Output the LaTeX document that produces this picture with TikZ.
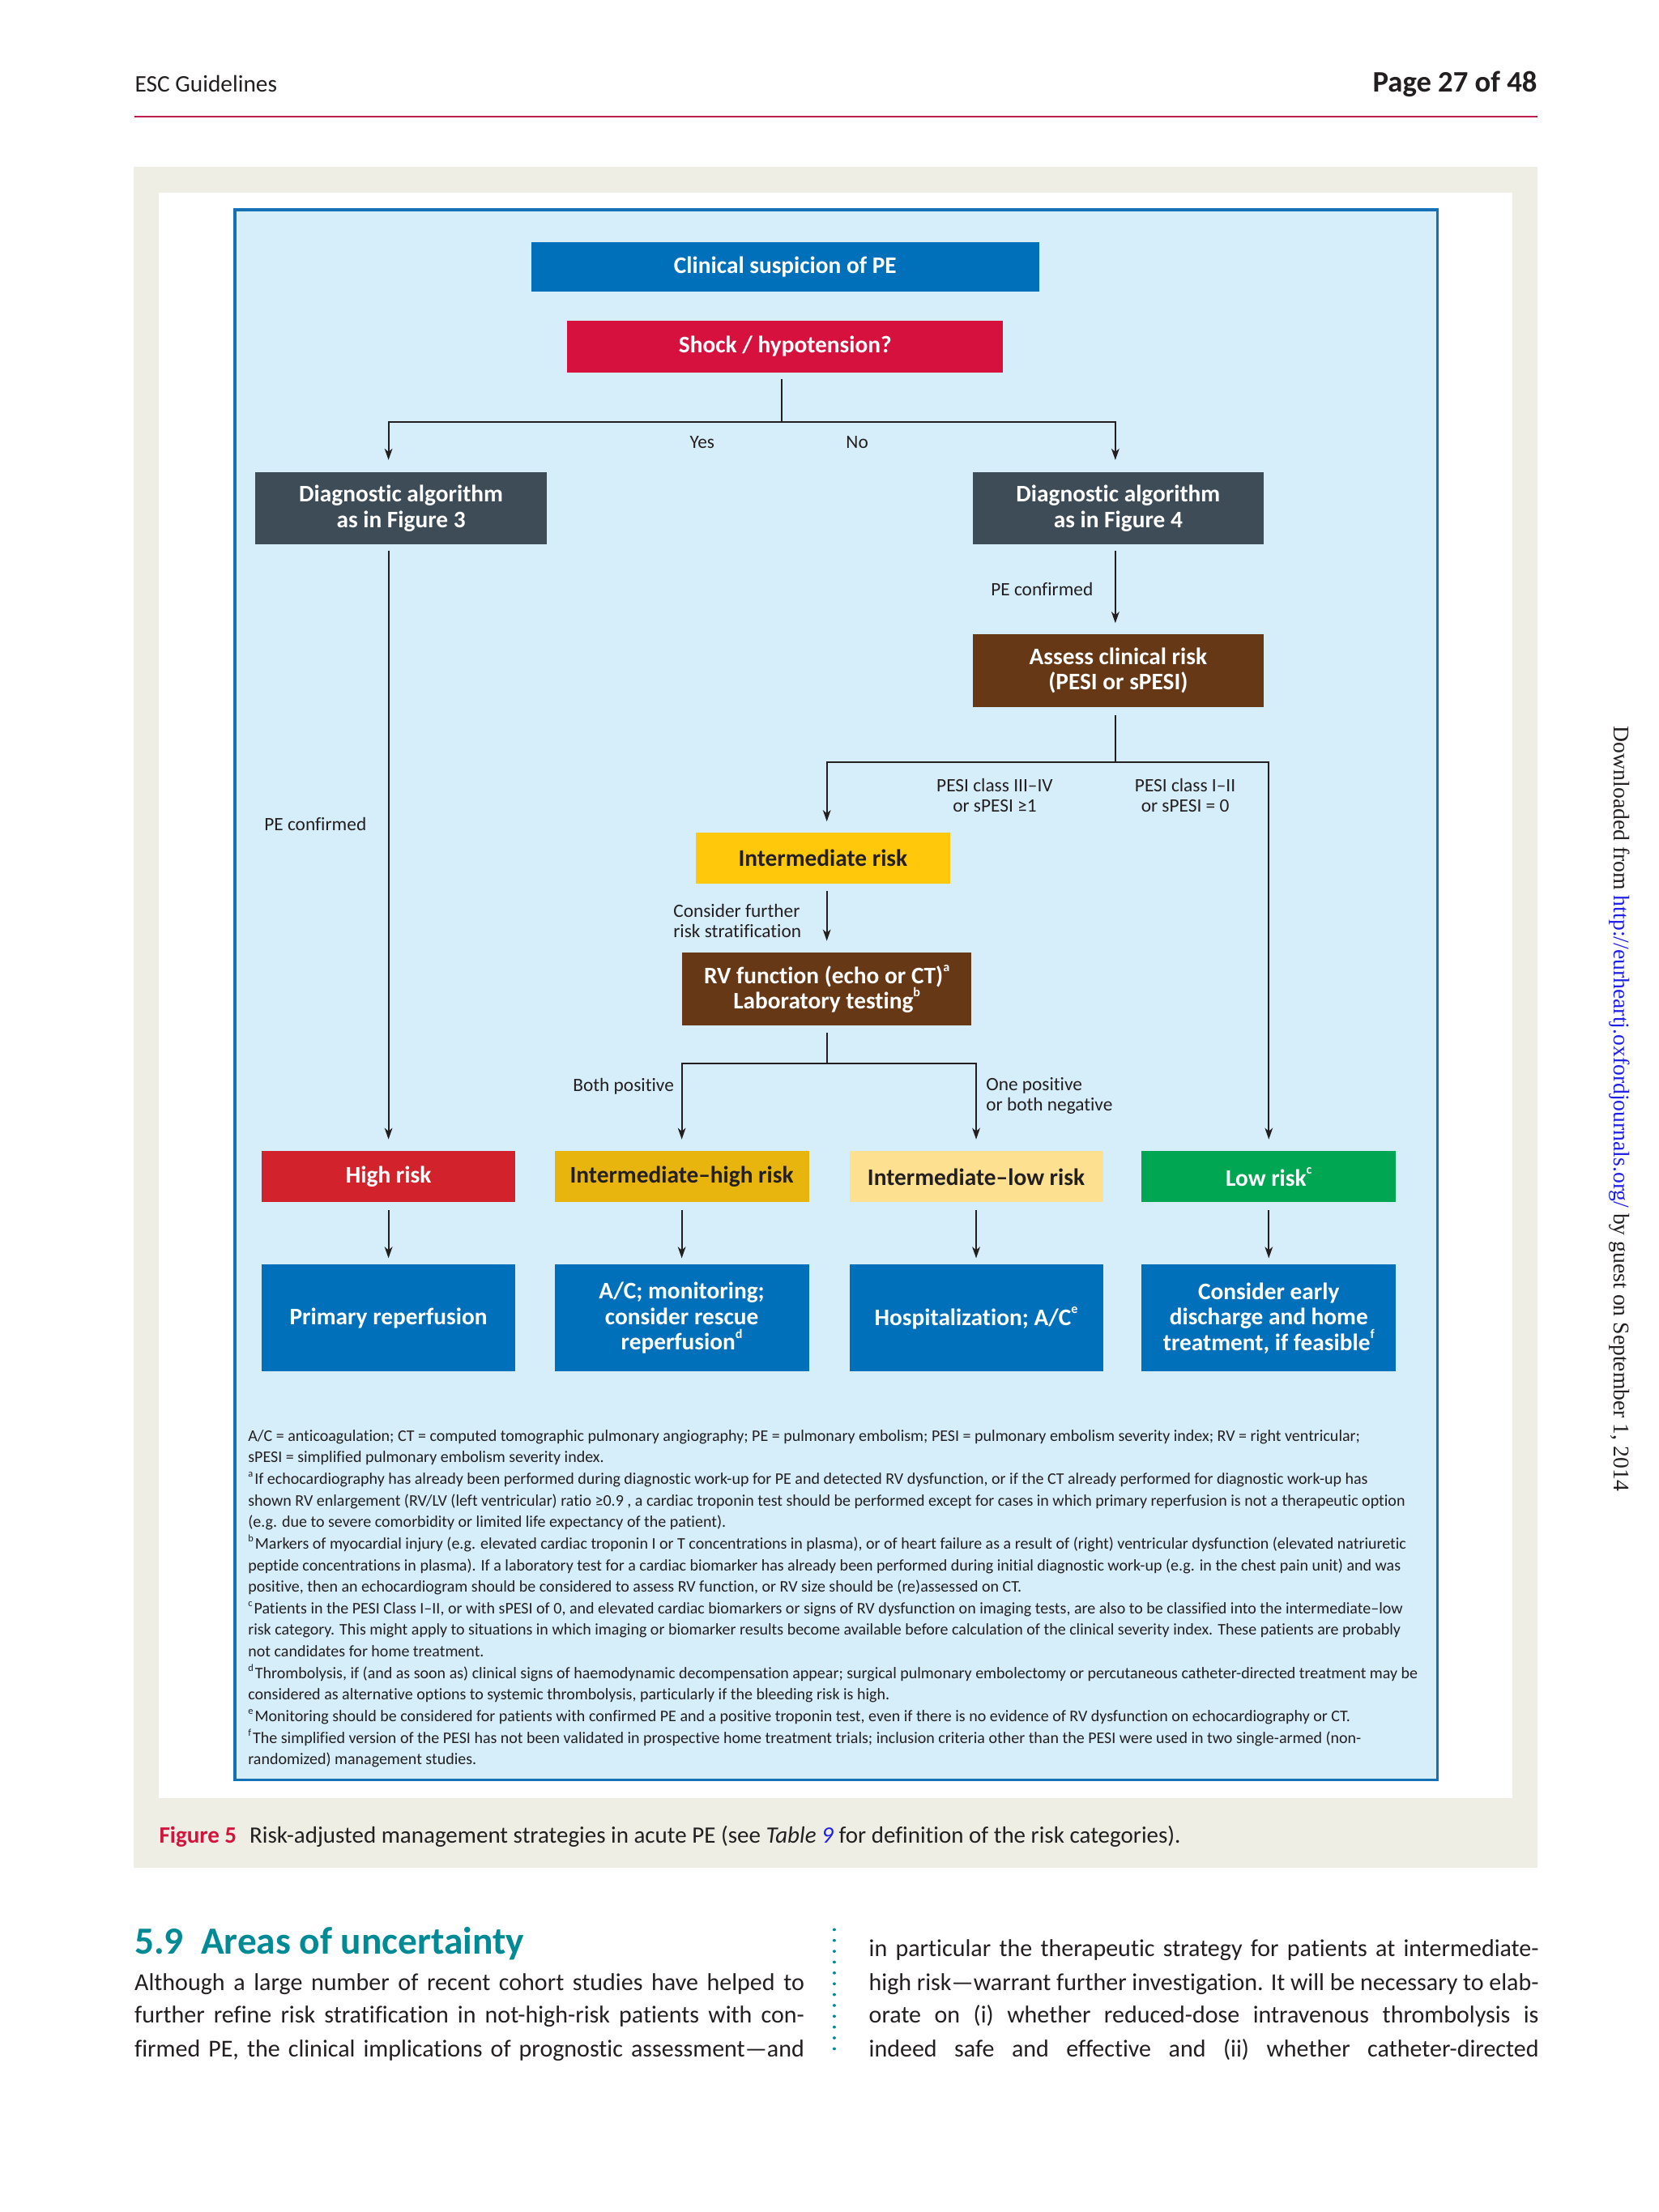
\documentclass[tikz,border=0pt]{standalone}
\usepackage{fontspec}
\usepackage{graphicx}
\setmainfont{Carlito}[Ligatures=NoCommon]
\newfontfamily\vserif{Liberation Serif}
\usetikzlibrary{arrows.meta}
\definecolor{escblue}{RGB}{0,112,186}
\definecolor{shockred}{RGB}{214,17,62}
\definecolor{slate}{RGB}{61,76,86}
\definecolor{brownbox}{RGB}{103,56,22}
\definecolor{interyel}{RGB}{255,200,10}
\definecolor{ihighcol}{RGB}{232,181,14}
\definecolor{ilowcol}{RGB}{254,224,145}
\definecolor{lowgreen}{RGB}{0,166,81}
\definecolor{highred}{RGB}{210,34,44}
\definecolor{panelblue}{RGB}{214,238,250}
\definecolor{borderblue}{RGB}{22,112,182}
\definecolor{panelgray}{RGB}{238,238,229}
\definecolor{ruleRed}{RGB}{190,28,76}
\definecolor{captred}{RGB}{210,20,60}
\definecolor{secteal}{RGB}{0,138,150}
\definecolor{inkdark}{RGB}{35,31,32}
\definecolor{linkblue}{RGB}{30,30,230}
\newcommand\bx[7]{%
  \node[#6, minimum width={(#4-#2)*0.5224pt}, minimum height={(#5-#3)*0.525pt}] (#1) at ({(#2+#4)/2},{(#3+#5)/2}) {#7};}
\newcommand\fnl[2]{%
  \node[fnote] (fn#1) at (175.5,{1016.5+15.21*(#1-1)}) {#2};}
\newcommand\bodyl[4]{%
  \node[bodytxt] (#1) at (#2,#3) {\makebox[248pt][s]{#4}};}
\newcommand\sups[1]{\raisebox{0.5em}{\scalebox{0.55}{#1}}}
\newcommand\fsup[1]{\raisebox{0.45em}{\scalebox{0.62}{#1}}\hspace{0.1em}}
\begin{document}
\begin{tikzpicture}[x=0.5224pt,y=-0.525pt,
  box/.style={inner sep=0pt, outer sep=0pt, align=center, text=white, font=\fontsize{8.8}{9.45}\selectfont\bfseries},
  darkbox/.style={box, text=inkdark},
  lbl/.style={inner sep=0pt, align=center, text=inkdark, font=\fontsize{7}{7.6}\selectfont},
  fnote/.style={inner sep=0pt, anchor=base west, text=inkdark, font=\fontsize{6}{7.9}\selectfont},
  bodytxt/.style={inner sep=0pt, anchor=base west, text=inkdark, font=\fontsize{9}{12}\selectfont},
  ln/.style={draw=inkdark, line width=0.6pt},
  arr/.style={ln, -{Stealth[length=4.2pt,width=2.9pt,inset=1.2pt]}},
]
\useasboundingbox (0,0) rectangle (1175.8,1560.2);
\fill[white] (0,0) rectangle (1175.8,1560.2);

% header
\node[inner sep=0pt, anchor=base west, text=inkdark, font=\fontsize{8.8}{10}\selectfont] (hdl) at (95.3,65) {ESC Guidelines};
\node[inner sep=0pt, anchor=base east, text=inkdark, font=\fontsize{11}{13}\selectfont\bfseries] (hdr) at (1089.8,65) {Page 27 of 48};
\draw[ruleRed, line width=0.6pt] (95.3,82.1) -- (1089.8,82.1);

% panels
\fill[panelgray] (94.5,117.8) rectangle (1089.5,1317.4);
\fill[white] (112.3,135.7) rectangle (1071.8,1268.3);
\filldraw[fill=panelblue, draw=borderblue, line width=1pt] (166.5,147.9) rectangle (1018.6,1255.5);

% boxes
\bx{clin}{376.5}{171}{736.5}{205.5}{box, fill=escblue}{Clinical suspicion of PE}
\bx{shock}{402}{226.5}{711}{262.5}{box, fill=shockred}{Shock / hypotension?}
\bx{diag3}{181}{333}{387.5}{384}{box, fill=slate}{Diagnostic algorithm\\as in Figure 3}
\bx{diag4}{689.5}{333}{895.5}{384}{box, fill=slate}{Diagnostic algorithm\\as in Figure 4}
\bx{assess}{689.5}{447.5}{895.5}{498.6}{box, fill=brownbox}{Assess clinical risk\\(PESI or sPESI)}
\bx{inter}{493}{587}{673.5}{623.5}{darkbox, fill=interyel}{Intermediate risk}
\bx{rv}{483.5}{672}{688.5}{723}{box, fill=brownbox}{RV function (echo or CT)\sups{a}\\Laboratory testing\sups{b}}
\bx{high}{185.7}{812}{365}{848}{box, fill=highred}{High risk}
\bx{ihigh}{393}{812}{573.4}{848}{darkbox, fill=ihighcol}{Intermediate–high risk}
\bx{ilow}{602}{812}{781.7}{848}{darkbox, fill=ilowcol}{Intermediate–low risk}
\bx{low}{809}{812}{989.5}{848}{box, fill=lowgreen}{Low risk\sups{c}}
\bx{t1}{185.7}{892}{365}{967.4}{box, fill=escblue}{Primary reperfusion}
\bx{t2}{393}{892}{573.4}{967.4}{box, fill=escblue}{A/C; monitoring;\\consider rescue\\reperfusion\sups{d}}
\bx{t3}{602}{892}{781.7}{967.4}{box, fill=escblue}{Hospitalization; A/C\sups{e}}
\bx{t4}{809}{892}{989.5}{967.4}{box, fill=escblue}{Consider early\\discharge and home\\treatment, if feasible\sups{f}}

% junctions
\coordinate (j1) at (554.3,297.6);
\coordinate (j2) at (790.5,537.7);
\coordinate (j3) at (586,750.1);

% connectors
\draw[ln, shorten <=2.5pt] (shock.south -| j1) -- (j1);
\draw[arr, shorten >=4.5pt] (j1) -| (diag3.north -| high.north);
\draw[arr, shorten >=4.5pt] (j1) -| (diag4.north -| j2);
\draw[arr, shorten <=2.2pt, shorten >=4.4pt] (diag3.south -| high.north) -- (high.north);
\draw[arr, shorten <=2.2pt, shorten >=4.2pt] (diag4.south -| j2) -- (assess.north -| j2);
\draw[ln, shorten <=3.1pt] (assess.south -| j2) -- (j2);
\draw[arr, shorten >=4pt] (j2) -| (inter.north -| j3);
\draw[arr, shorten >=4.4pt] (j2) -| (low.north);
\draw[arr, shorten <=2.7pt, shorten >=4.4pt] (inter.south -| j3) -- (rv.north -| j3);
\draw[ln, shorten <=2.8pt] (rv.south -| j3) -- (j3);
\draw[arr, shorten >=4.4pt] (j3) -| (ihigh.north);
\draw[arr, shorten >=4.4pt] (j3) -| (ilow.north);
\draw[arr, shorten <=3pt, shorten >=2.4pt] (high.south) -- (t1.north);
\draw[arr, shorten <=3pt, shorten >=2.4pt] (ihigh.south) -- (t2.north);
\draw[arr, shorten <=3pt, shorten >=2.4pt] (ilow.south) -- (t3.north);
\draw[arr, shorten <=3pt, shorten >=2.4pt] (low.south) -- (t4.north);

% labels
\node[lbl] (yes) at (497.7,311.7) {Yes};
\node[lbl] (no) at (607.5,311.7) {No};
\node[lbl] (pec1) at (223.5,581) {PE confirmed};
\node[lbl] (pec2) at (738.5,415.5) {PE confirmed};
\node[lbl] (pesi1) at (705,561) {PESI class III–IV\\or sPESI ≥1};
\node[lbl] (pesi2) at (840,561) {PESI class I–II\\or sPESI = 0};
\node[lbl, anchor=west, align=left] (cons) at (476.9,649.6) {Consider further\\risk stratification};
\node[lbl, anchor=east] (both) at (478,766) {Both positive};
\node[lbl, anchor=west, align=left] (one) at (698.5,773.1) {One positive\\or both negative};

% footnotes
\fnl{1}{A/C = anticoagulation; CT = computed tomographic pulmonary angiography; PE = pulmonary embolism; PESI = pulmonary embolism severity index; RV = right ventricular;}
\fnl{2}{sPESI = simplified pulmonary embolism severity index.}
\fnl{3}{\fsup{a}If echocardiography has already been performed during diagnostic work-up for PE and detected RV dysfunction, or if the CT already performed for diagnostic work-up has}
\fnl{4}{shown RV enlargement (RV/LV (left ventricular) ratio ≥0.9 , a cardiac troponin test should be performed except for cases in which primary reperfusion is not a therapeutic option}
\fnl{5}{(e.g. due to severe comorbidity or limited life expectancy of the patient).}
\fnl{6}{\fsup{b}Markers of myocardial injury (e.g. elevated cardiac troponin I or T concentrations in plasma), or of heart failure as a result of (right) ventricular dysfunction (elevated natriuretic}
\fnl{7}{peptide concentrations in plasma). If a laboratory test for a cardiac biomarker has already been performed during initial diagnostic work-up (e.g. in the chest pain unit) and was}
\fnl{8}{positive, then an echocardiogram should be considered to assess RV function, or RV size should be (re)assessed on CT.}
\fnl{9}{\fsup{c}Patients in the PESI Class I–II, or with sPESI of 0, and elevated cardiac biomarkers or signs of RV dysfunction on imaging tests, are also to be classified into the intermediate–low}
\fnl{10}{risk category. This might apply to situations in which imaging or biomarker results become available before calculation of the clinical severity index. These patients are probably}
\fnl{11}{not candidates for home treatment.}
\fnl{12}{\fsup{d}Thrombolysis, if (and as soon as) clinical signs of haemodynamic decompensation appear; surgical pulmonary embolectomy or percutaneous catheter-directed treatment may be}
\fnl{13}{considered as alternative options to systemic thrombolysis, particularly if the bleeding risk is high.}
\fnl{14}{\fsup{e}Monitoring should be considered for patients with confirmed PE and a positive troponin test, even if there is no evidence of RV dysfunction on echocardiography or CT.}
\fnl{15}{\fsup{f}The simplified version of the PESI has not been validated in prospective home treatment trials; inclusion criteria other than the PESI were used in two single-armed (non-}
\fnl{16}{randomized) management studies.}

% caption
\node[inner sep=0pt, anchor=base west, text=inkdark, font=\fontsize{8.7}{10}\selectfont] (cap) at (112.5,1300) {\textcolor{captred}{\bfseries Figure 5}\hspace{0.55em}Risk-adjusted management strategies in acute PE (see \textit{Table} \textcolor{linkblue}{\textit{9}} for definition of the risk categories).};

% section
\node[inner sep=0pt, anchor=base west, text=secteal, font=\fontsize{14.2}{16}\selectfont\bfseries] (sec) at (95,1378) {5.9\hspace{0.45em}Areas of uncertainty};
\bodyl{bl1}{95}{1403.8}{Although a large number of recent cohort studies have helped to}
\bodyl{bl2}{95}{1426.7}{further refine risk stratification in not-high-risk patients with con-}
\bodyl{bl3}{95}{1450.5}{firmed PE, the clinical implications of prognostic assessment—and}
\bodyl{br1}{615.5}{1380.1}{in particular the therapeutic strategy for patients at intermediate-}
\bodyl{br2}{615.5}{1403.8}{high risk—warrant further investigation. It will be necessary to elab-}
\bodyl{br3}{615.5}{1426.7}{orate on (i) whether reduced-dose intravenous thrombolysis is}
\bodyl{br4}{615.5}{1450.5}{indeed safe and effective and (ii) whether catheter-directed}
\draw[secteal, line width=1.1pt, dash pattern=on 0.01pt off 4pt, line cap=round] (591.2,1361) -- (591.2,1451);

% vertical download note
\node[inner sep=0pt, anchor=west, rotate=-90, text=inkdark, font=\vserif\fontsize{8.3}{10}\selectfont] (dl) at (1148,512) {Downloaded from \textcolor{linkblue}{http://eurheartj.oxfordjournals.org/} by guest on September 1, 2014};
\end{tikzpicture}
\end{document}
